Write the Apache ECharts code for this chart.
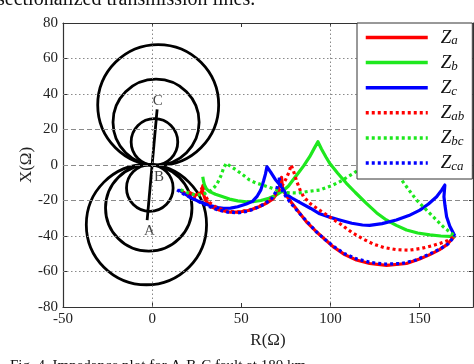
<!DOCTYPE html>
<html><head><meta charset="utf-8">
<script src="https://cdn.jsdelivr.net/npm/echarts@6/dist/echarts.min.js"></script>
<style>html,body{margin:0;padding:0;background:#fff}#c{width:474px;height:364px}</style>
</head><body><div id="c"></div>
<script>
// ---- data ----
const xRange = [-50, 180];
const yRange = [-80, 80];
const xInterval = 50;
const yInterval = 20;
const seriesNames = ['Za', 'Zb', 'Zc', 'Zab', 'Zbc', 'Zca'];
const seriesColors = ['#ff0000', '#1ee81e', '#0000ff', '#ff0000', '#1ee81e', '#0000ff'];
const seriesDotted = [false, false, false, true, true, true];

const Za = [[20,-15],[24,-17],[27,-16],[29,-13],[28.5,-11.5],[28,-14],[30,-20],[33,-23.5],[38,-25.5],[43.4,-26.5],[49,-26.5],[54.7,-25.5],[60,-23.5],[64,-21.6],[68,-19],[70.5,-15],[72,-10],[72.6,-7],[73,-12],[74.5,-16],[78,-21],[82.8,-27.2],[87,-32.5],[92.1,-37.6],[97,-42],[101.5,-46],[108,-50.5],[114.6,-53.5],[122,-55.5],[131.5,-56.5],[142.7,-55.5],[150,-53],[155.8,-50.5],[161,-47.8],[165.2,-45],[169.8,-40]];
const Zb = [[28.4,-6.6],[28.8,-9],[29.4,-11.3],[30.5,-13.5],[32.2,-15],[35.5,-16.5],[39.7,-17.9],[43.4,-19.2],[48,-20.2],[52.8,-20.7],[56.5,-20.7],[61,-20],[65.5,-18.7],[69.7,-16.9],[73.5,-14.5],[76.5,-11.8],[79,-8.5],[82,-4.5],[85,-0.5],[88.4,4.7],[91,9.5],[93,13.1],[95,9],[97.5,4.5],[99.6,1],[104,-4.5],[109,-10.3],[114,-15.5],[120.2,-21.6],[126,-27],[131.4,-31],[137,-34],[142.7,-36.6],[149,-38.3],[155.8,-39.4],[162,-40],[169.8,-40.4]];
const Zc = [[15,-14],[18,-16],[21,-18],[26,-20.5],[32,-22.7],[37,-24],[40,-24.4],[44,-24.3],[48,-23.5],[52.8,-22],[56.3,-20.5],[59,-17.5],[61,-14],[62.5,-9],[63.6,-5],[64.4,-1],[66.5,-4],[69,-8],[72.5,-12.2],[75.3,-16.5],[79,-19],[84,-21.8],[89,-24.5],[94,-27.5],[100,-29.5],[105.2,-31],[112,-32.8],[118,-33.8],[122,-34],[129,-33],[137,-31],[144,-28.5],[150.2,-25.4],[155,-22],[159.6,-17.9],[162.5,-14],[164.2,-11.3],[163.7,-17.9],[164.3,-23],[165.2,-29.1],[167,-34.5],[169.8,-40]];
const Zab = [[17,-15],[21,-17.5],[25,-18],[27,-15],[28,-13],[29,-16],[32,-21],[36,-24],[42,-26],[48,-26.5],[54,-25.5],[60,-23.5],[65,-20.5],[69,-17],[72.5,-12.5],[75,-8],[76.8,-4],[78,0],[79.5,-4],[81,-9],[83,-14],[85,-18],[89,-22],[94,-25.5],[100,-29.5],[106,-33.5],[112,-38],[118,-41.5],[124,-44.5],[130,-46.5],[137,-47.7],[144,-48],[151,-47],[157,-45.5],[162,-44],[166,-42.5],[169.8,-40]];
const Zbc = [[16,-14],[21,-16],[24.7,-17],[28.5,-16.5],[32.2,-15],[34.5,-13],[36,-11.3],[37.5,-8.5],[38.8,-5.6],[40,-2],[41.6,1],[44,-0.8],[47.2,-2.8],[50.5,-5.2],[54.7,-8.5],[58,-10],[62.1,-11.3],[67,-13],[71,-14.5],[75.3,-15.6],[82,-15.8],[88,-14.8],[94,-14.1],[101.5,-11.3],[106,-9],[110,-6.5],[113,-4.7],[118,-1],[124,3],[130,5],[135,2],[138,-4],[140,-8.5],[144,-14],[148.3,-19.7],[153,-24.5],[157.6,-29.1],[163,-34.5],[169.8,-40]];
const Zca = [[14,-14],[18,-16.5],[22,-18.5],[26,-20.5],[31,-23],[36,-25],[42,-26.5],[48,-27],[54,-26],[59,-24],[63,-22],[67,-19],[69.5,-15],[70.8,-10],[71.2,-7],[72,-11],[73.5,-15.5],[77,-20.5],[82,-26.5],[87,-32],[92,-37.5],[97,-42],[102,-46],[108,-50],[115,-53],[123,-55],[131,-55.8],[140,-55.5],[148,-53.5],[156,-50],[162,-47],[166,-44.5],[169.8,-40]];
const seriesData = [Za, Zb, Zc, Zab, Zbc, Zca];

// mho circles: [centre R, centre X, radius]
const mhoCircles = [[3.4,33.8,34],[2.2,24.1,24.2],[1.3,13,13.1],[-1.3,-13,13.1],[-1.9,-24.2,24.3],[-3.2,-33.6,33.8]];
const lineABC = [[-2.8,-31],[2.8,31.4]];
const pointNames = ['A', 'B', 'C'];
const pointPos = [[-1.5,-37],[3.8,-6.8],[3.2,35.8]];
const dottedGridX = [0, 100];
const dottedGridY = [60, 40, -40, -60];
const dashedGridY = [20, 0, -20];

// ---- chart ----
const serif = '"Liberation Serif", "DejaVu Serif", serif';
const chart = echarts.init(document.getElementById('c'));
const gridLines = [];
dottedGridX.forEach(v => gridLines.push({xAxis: v, lineStyle: {type: [1.5, 2.5]}}));
dottedGridY.forEach(v => gridLines.push({yAxis: v, lineStyle: {type: [1.5, 2.5]}}));
dashedGridY.forEach(v => gridLines.push({yAxis: v, lineStyle: {type: [5, 3]}}));

const series = [
  {
    type: 'line', name: 'grid', data: [[xRange[0], yRange[0]]], symbol: 'none', silent: true,
    lineStyle: {width: 0}, z: 1,
    markLine: {silent: true, symbol: ['none', 'none'], label: {show: false},
      lineStyle: {color: '#8a8a8a', width: 1}, data: gridLines, animation: false}
  },
  {
    type: 'custom', name: 'mho', data: mhoCircles, z: 2, silent: true,
    encode: {x: 0, y: 1},
    renderItem: function (params, api) {
      const c = api.coord([api.value(0), api.value(1)]);
      const s = api.size([api.value(2), api.value(2)]);
      return {type: 'circle', shape: {cx: c[0], cy: c[1], r: (s[0] + s[1]) / 2},
        style: {fill: 'none', stroke: '#000', lineWidth: 2.8}};
    }
  },
  {
    type: 'line', name: 'ABC', data: lineABC, symbol: 'none', z: 2, silent: true,
    lineStyle: {color: '#000', width: 2.8}
  },
  {
    type: 'scatter', name: 'labels', z: 3, silent: true, symbolSize: 0,
    data: pointNames.map((n, i) => ({name: n, value: pointPos[i]})),
    label: {show: true, position: 'inside', formatter: '{b}', color: '#111',
      fontFamily: serif, fontSize: 15}
  }
];
seriesNames.forEach((n, i) => {
  series.push({
    type: 'line', name: n, data: seriesData[i], symbol: 'none', showSymbol: false, z: 5 + i,
    legendIcon: 'none',
    lineStyle: {color: seriesColors[i], width: 3.2,
      type: seriesDotted[i] ? [3, 3] : 'solid', cap: 'butt', join: 'round'},
    itemStyle: {color: seriesColors[i]}
  });
});

chart.setOption({
  animation: false,
  backgroundColor: '#fff',
  grid: {left: 63, top: 23, right: 1, bottom: 57, show: false},
  legend: {
    data: seriesNames, orient: 'vertical', left: 357, top: 23,
    backgroundColor: '#fff', borderColor: '#333', borderWidth: 1, borderRadius: 0,
    padding: [5, 8, 6, 7], itemWidth: 62, itemHeight: 20, itemGap: 5.6,
    selectedMode: false, z: 20,
    itemStyle: {opacity: 0, borderWidth: 0},
    lineStyle: {width: 3.5},
    formatter: function (name) { return '{z|Z}{s|' + name.slice(1) + '}'; },
    textStyle: {
      rich: {
        z: {fontFamily: serif, fontStyle: 'italic', fontSize: 19, lineHeight: 20, color: '#111', padding: [0, 0, 0, 8]},
        s: {fontFamily: serif, fontStyle: 'italic', fontSize: 13, lineHeight: 12, verticalAlign: 'bottom', color: '#111'}
      }
    }
  },
  xAxis: [
    {type: 'value', min: xRange[0], max: xRange[1], interval: xInterval, position: 'bottom',
      name: 'R(Ω)', nameLocation: 'middle', nameGap: 25,
      nameTextStyle: {fontFamily: serif, fontSize: 17, color: '#222'},
      axisLine: {show: true, onZero: false, lineStyle: {color: '#333', width: 1.2}},
      axisTick: {show: true, inside: true, length: 4, lineStyle: {color: '#333'}},
      axisLabel: {fontFamily: serif, fontSize: 15, color: '#222', margin: 5, showMaxLabel: false},
      splitLine: {show: false}},
    {type: 'value', min: xRange[0], max: xRange[1], interval: xInterval, position: 'top',
      axisLine: {show: true, onZero: false, lineStyle: {color: '#333', width: 1.2}},
      axisTick: {show: true, inside: true, length: 4, lineStyle: {color: '#333'}},
      axisLabel: {show: false}, splitLine: {show: false}}
  ],
  yAxis: [
    {type: 'value', min: yRange[0], max: yRange[1], interval: yInterval, position: 'left',
      name: 'X(Ω)', nameLocation: 'middle', nameGap: 28, nameMoveOverlap: false,
      nameTextStyle: {fontFamily: serif, fontSize: 17, color: '#222'},
      axisLine: {show: true, onZero: false, lineStyle: {color: '#333', width: 1.2}},
      axisTick: {show: true, inside: true, length: 4, lineStyle: {color: '#333'}},
      axisLabel: {fontFamily: serif, fontSize: 15, color: '#222', margin: 5},
      splitLine: {show: false}},
    {type: 'value', min: yRange[0], max: yRange[1], interval: yInterval, position: 'right',
      axisLine: {show: true, onZero: false, lineStyle: {color: '#333', width: 1.2}},
      axisTick: {show: true, inside: true, length: 4, lineStyle: {color: '#333'}},
      axisLabel: {show: false}, splitLine: {show: false}}
  ],
  graphic: [
    {type: 'text', left: -3, top: -10, silent: true,
      style: {text: 'sectionalized transmission lines.', fontFamily: serif, fontSize: 20, fill: '#111'}},
    {type: 'text', left: 10, top: 359, silent: true,
      style: {text: 'Fig. 4. Impedance plot for A-B-C fault at 180 km', fontFamily: serif, fontSize: 15, fill: '#111'}}
  ],
  series: series
});
</script>
</body></html>
